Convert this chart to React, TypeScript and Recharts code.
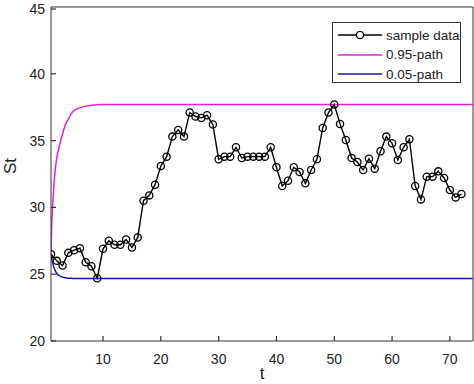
import React from "react";
import { LineChart, Line, XAxis, YAxis } from "recharts";

const sampleT = Array.from({ length: 72 }, (_, i) => i + 1);
const sampleSt = [
  26.5, 26.0, 25.65, 26.6, 26.8, 26.95, 25.9, 25.6, 24.7, 26.9,
  27.5, 27.2, 27.2, 27.6, 27.0, 27.75, 30.5, 30.9, 31.7, 33.1,
  33.8, 35.3, 35.8, 35.3, 37.1, 36.8, 36.7, 36.9, 36.2, 33.6,
  33.8, 33.8, 34.5, 33.7, 33.8, 33.8, 33.8, 33.8, 34.5, 33.0,
  31.6, 32.0, 33.0, 32.65, 31.8, 32.8, 33.6, 35.95, 37.1, 37.7,
  36.25, 35.05, 33.7, 33.4, 32.8, 33.65, 32.9, 34.2, 35.3, 34.8,
  33.55, 34.5, 35.1, 31.6, 30.6, 32.3, 32.3, 32.7, 32.2, 31.3,
  30.75, 31.0,
];

const pathT = [1, 1.1, 1.25, 1.5, 1.75, 2, 2.5, 3, 3.5, 4, 4.5, 5, 6, 7, 8, 10, 74];
const upperPath = [26.5, 28.4, 29.8, 31.6, 32.9, 33.7, 34.7, 35.5, 36.2, 36.6, 37.0, 37.25, 37.45, 37.58, 37.65, 37.7, 37.7];
const lowerPath = [26.5, 26.2, 25.9, 25.5, 25.25, 25.05, 24.88, 24.78, 24.73, 24.7, 24.69, 24.68, 24.68, 24.68, 24.68, 24.68, 24.68];

const xTicks = [10, 20, 30, 40, 50, 60, 70];
const yTicks = [20, 25, 30, 35, 40, 45];

const sampleData = sampleT.map((t, i) => ({ t, v: sampleSt[i] }));
const upperData = pathT.map((t, i) => ({ t, v: upperPath[i] }));
const lowerData = pathT.map((t, i) => ({ t, v: lowerPath[i] }));

const FONT = "'Liberation Sans', Arial, sans-serif";
const AXIS = "#333333";
const TEXT = "#222222";
const MAGENTA = "#e31de3";
const BLUE = "#1616b4";
const TL = 5;
const X_MARGIN = 13;
const Y_MARGIN = 6;

const Circle = (props: any) => {
  const { cx, cy } = props;
  if (cx == null || cy == null) return null;
  return <circle cx={cx} cy={cy} r={3.6} fill="none" stroke="#000" strokeWidth={1.3} />;
};

function BottomTick(props: any) {
  const { x, y, payload } = props;
  const axisY = Number(y) - X_MARGIN;
  return (
    <g>
      <path d={`M${x},${axisY}V${axisY - TL}`} stroke={AXIS} strokeWidth={1.2} fill="none" />
      <text x={x} y={y} dy="0.71em" textAnchor="middle" fill={TEXT} fontSize={14} fontFamily={FONT}>
        {payload.value}
      </text>
    </g>
  );
}

function LeftTick(props: any) {
  const { x, y, payload } = props;
  const axisX = Number(x) + Y_MARGIN;
  return (
    <g>
      <path d={`M${axisX},${y}H${axisX + TL}`} stroke={AXIS} strokeWidth={1.2} fill="none" />
      <text x={x} y={y} dy="0.355em" textAnchor="end" fill={TEXT} fontSize={14} fontFamily={FONT}>
        {payload.value}
      </text>
    </g>
  );
}

export default function App() {
  return (
    <div style={{ position: "absolute", left: 0, top: 0, width: 474, height: 384, background: "#fff", fontFamily: FONT }}>
      <LineChart width={474} height={384} margin={{ top: 7, right: 1, left: 0, bottom: 0 }}>
        <XAxis
          xAxisId="b"
          dataKey="t"
          type="number"
          domain={[1, 74]}
          ticks={xTicks}
          allowDataOverflow
          height={43}
          stroke={AXIS}
          tickLine={false}
          tickSize={0}
          tickMargin={X_MARGIN}
          tick={BottomTick}
          label={{ value: "t", position: "insideBottom", offset: 5, fill: TEXT, fontSize: 17, fontFamily: FONT }}
        />
        <XAxis
          xAxisId="top"
          orientation="top"
          dataKey="t"
          type="number"
          domain={[1, 74]}
          ticks={xTicks}
          allowDataOverflow
          height={1}
          mirror
          stroke={AXIS}
          tickLine={{ stroke: AXIS, strokeWidth: 1.2 }}
          tickSize={TL}
          tick={false}
        />
        <YAxis
          yAxisId="l"
          type="number"
          domain={[20, 45]}
          ticks={yTicks}
          allowDataOverflow
          width={51}
          stroke={AXIS}
          tickLine={false}
          tickSize={0}
          tickMargin={Y_MARGIN}
          tick={LeftTick}
          label={{ value: "St", angle: -90, position: "insideLeft", offset: 10, fill: TEXT, fontSize: 17, fontFamily: FONT }}
        />
        <YAxis
          yAxisId="r"
          orientation="right"
          type="number"
          domain={[20, 45]}
          ticks={yTicks}
          allowDataOverflow
          width={1}
          mirror
          stroke={AXIS}
          tickLine={{ stroke: AXIS, strokeWidth: 1.2 }}
          tickSize={TL}
          tick={false}
        />
        <Line
          xAxisId="b"
          yAxisId="l"
          data={upperData}
          dataKey="v"
          type="monotone"
          stroke={MAGENTA}
          strokeWidth={1.5}
          dot={false}
          isAnimationActive={false}
        />
        <Line
          xAxisId="b"
          yAxisId="l"
          data={lowerData}
          dataKey="v"
          type="monotone"
          stroke={BLUE}
          strokeWidth={1.5}
          dot={false}
          isAnimationActive={false}
        />
        <Line
          xAxisId="b"
          yAxisId="l"
          data={sampleData}
          dataKey="v"
          type="linear"
          stroke="#000"
          strokeWidth={1.4}
          dot={<Circle />}
          isAnimationActive={false}
        />
      </LineChart>
      <div
        style={{
          position: "absolute",
          left: 332,
          top: 22,
          width: 129,
          height: 61,
          border: "1px solid #333",
          background: "#fff",
          boxSizing: "border-box",
        }}
      >
        {[
          { label: "sample data", color: "#000", marker: true },
          { label: "0.95-path", color: MAGENTA, marker: false },
          { label: "0.05-path", color: BLUE, marker: false },
        ].map((e, i) => (
          <div key={i} style={{ position: "absolute", left: 4, top: 3 + i * 19.5, height: 18, display: "flex", alignItems: "center" }}>
            <svg width={46} height={18}>
              <line x1={1} y1={9} x2={45} y2={9} stroke={e.color} strokeWidth={1.5} />
              {e.marker && <circle cx={23} cy={9} r={3.6} fill="#fff" stroke="#000" strokeWidth={1.3} />}
            </svg>
            <span style={{ fontSize: 13.5, color: TEXT, marginLeft: 3, fontFamily: FONT, whiteSpace: "nowrap" }}>{e.label}</span>
          </div>
        ))}
      </div>
    </div>
  );
}
